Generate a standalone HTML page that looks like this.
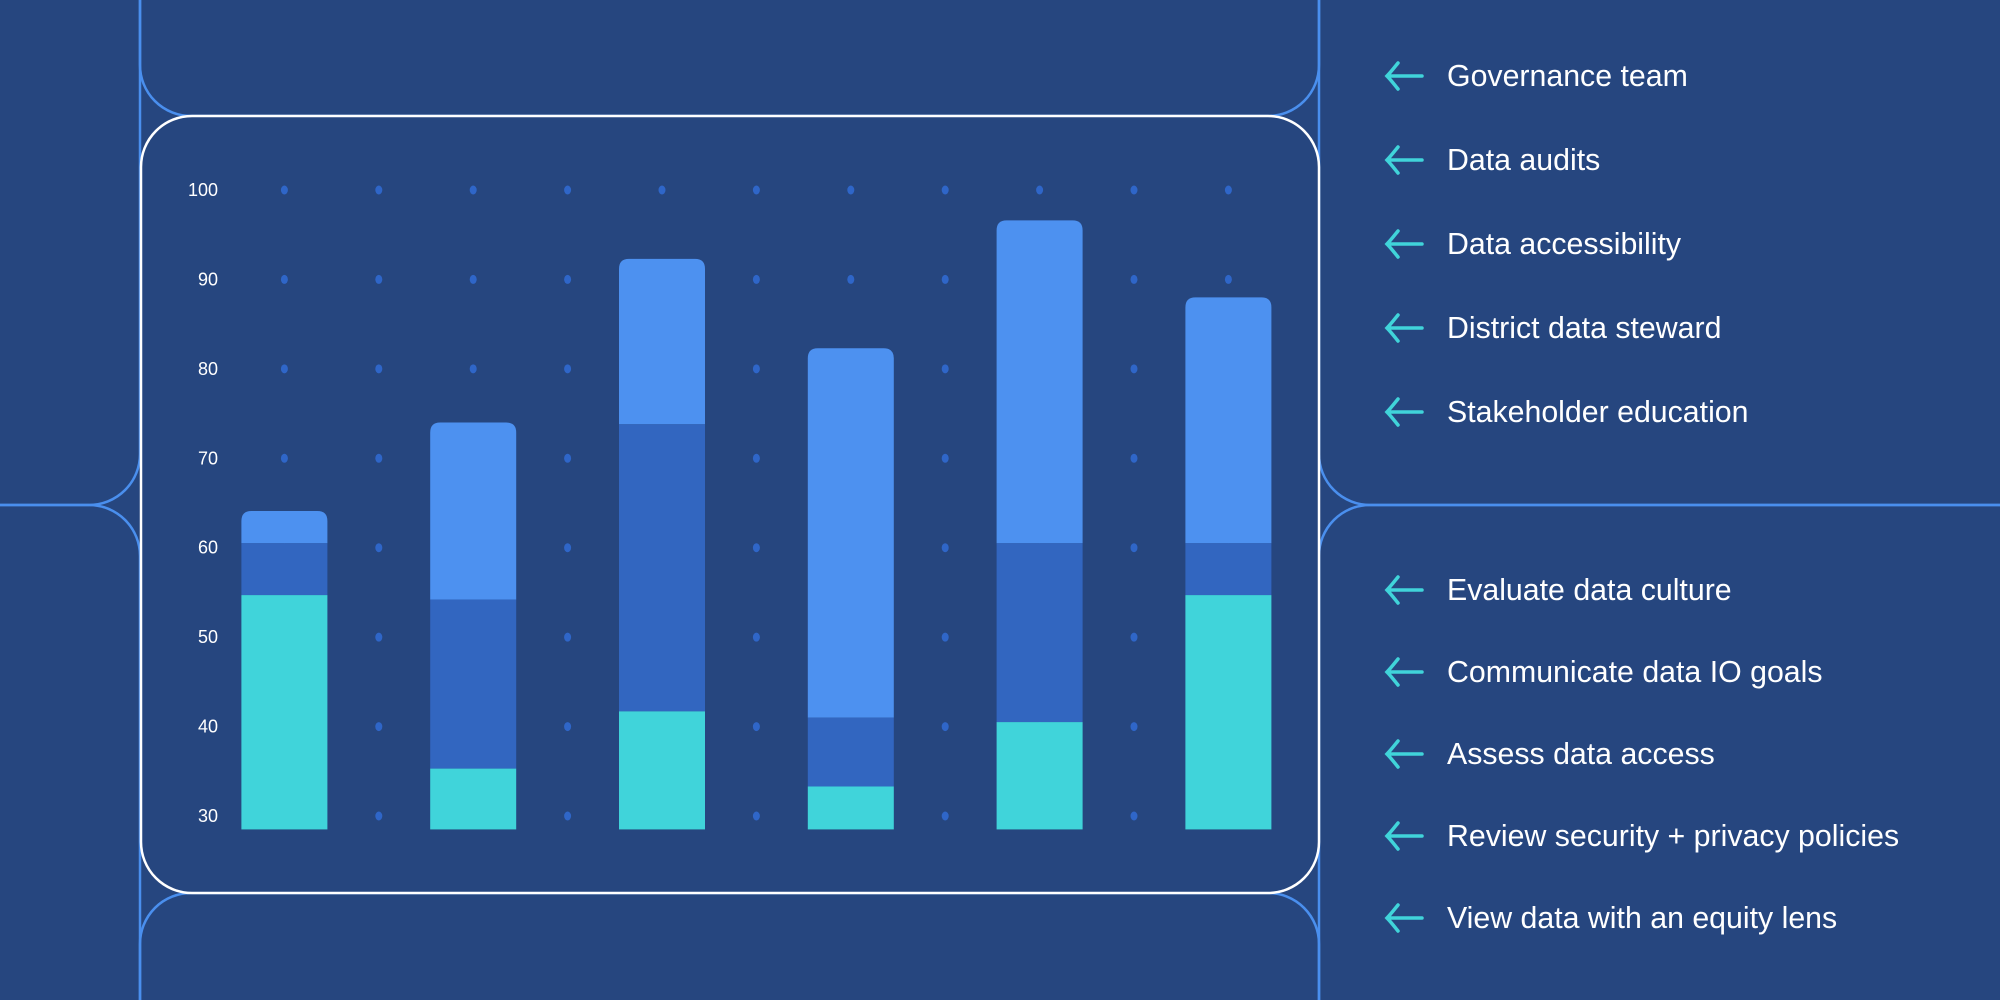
<!DOCTYPE html>
<html><head><meta charset="utf-8"><style>
html,body{margin:0;padding:0;background:#26467f;width:2000px;height:1000px;overflow:hidden}
svg{display:block;overflow:hidden}
text{font-family:"Liberation Sans",sans-serif}
</style></head><body>
<svg id="chart" width="2000" height="1000" viewBox="0 0 2000 1000" overflow="hidden" xmlns="http://www.w3.org/2000/svg">
<rect x="0" y="0" width="2000" height="1000" fill="#26467f"/>
<g fill="none" stroke="#4a8fee" stroke-width="2.5">
<path d="M140,0 V65 A51,51 0 0 0 191,116 H1268 A51,51 0 0 0 1319,65 V0"/>
<path d="M0,505 H89 A51,51 0 0 0 140,454 V0"/>
<path d="M0,505 H89 A51,51 0 0 1 140,556 V1000"/>
<path d="M140,1000 V944 A51,51 0 0 1 191,893 H1268 A51,51 0 0 1 1319,944 V1000"/>
<path d="M1319,0 V454 A51,51 0 0 0 1370,505 H2000"/>
<path d="M2000,505 H1370 A51,51 0 0 0 1319,556 V1000"/>
</g>
<rect x="141" y="116" width="1178" height="777" rx="51" fill="#26467f" stroke="#ffffff" stroke-width="2.5"/>
<g id="dots"></g><g id="bars"></g><g id="ticks"></g><g id="legend"></g>
</svg>
<script>
const categories = ["A","B","C","D","E","F"];
const seriesTeal = [54.7, 35.3, 41.7, 33.3, 40.5, 54.7];
const seriesDark = [60.5, 54.2, 73.8, 41.0, 60.5, 60.5];
const seriesLight = [64.1, 74.0, 92.3, 82.3, 96.6, 88.0];
const tickValues = [30,40,50,60,70,80,90,100];
const legendTop = ["Governance team","Data audits","Data accessibility","District data steward","Stakeholder education"];
const legendBottom = ["Evaluate data culture","Communicate data IO goals","Assess data access","Review security + privacy policies","View data with an equity lens"];

const NS="http://www.w3.org/2000/svg";
const y = v => 816 - (v-30)*(816-190)/70;
const colX = i => 284.4 + i*94.4;
const barX = i => colX(i*2);
const baseVal = 28.5, bw = 86;
function mk(tag, attrs, parent){const e=document.createElementNS(NS,tag);for(const k in attrs)e.setAttribute(k,attrs[k]);parent.appendChild(e);return e;}

const dots=document.getElementById('dots');
for(let c=0;c<11;c++){for(const t of tickValues){
  const d=mk('ellipse',{cx:colX(c),cy:y(t),rx:3.5,ry:4.5,fill:'#2f66c8'},dots);
  
  
}}
const bars=document.getElementById('bars');
categories.forEach((cat,i)=>{
  const x=barX(i)-bw/2;
  const top=y(seriesLight[i]), r=10;
  const p=mk('path',{d:`M${x},${y(seriesDark[i])} V${top+r} Q${x},${top} ${x+r},${top} H${x+bw-r} Q${x+bw},${top} ${x+bw},${top+r} V${y(seriesDark[i])} Z`,fill:'#4d91f0'},bars);
  
  
  const m=mk('rect',{x:x,y:y(seriesDark[i]),width:bw,height:y(seriesTeal[i])-y(seriesDark[i]),fill:'#3266c0'},bars);
  
  
  const t=mk('rect',{x:x,y:y(seriesTeal[i]),width:bw,height:y(baseVal)-y(seriesTeal[i]),fill:'#40d4da'},bars);
  
  
});
const ticks=document.getElementById('ticks');
tickValues.forEach(v=>{
  const t=mk('text',{x:218,y:y(v)+6,'text-anchor':'end','font-size':18,fill:'#ffffff'},ticks);
  t.textContent=v;
  
  
});
const leg=document.getElementById('legend');
function entry(label,baseline){
  const g=mk('g',{},leg);
  
  
  const a=mk('path',{d:`M1387,${baseline-10} H1422 M1398,${baseline-23} Q1390,${baseline-13} 1387,${baseline-10} Q1390,${baseline-7} 1398,${baseline+3}`,stroke:'#40d4da','stroke-width':3.5,fill:'none','stroke-linecap':'round'},g);
  
  
  const t=mk('text',{x:1447,y:baseline,'font-size':30.3,fill:'#ffffff'},g);
  t.textContent=label;
  
  
}
legendTop.forEach((l,i)=>entry(l,86+i*84));
legendBottom.forEach((l,i)=>entry(l,600+i*82));
</script>
</body></html>
